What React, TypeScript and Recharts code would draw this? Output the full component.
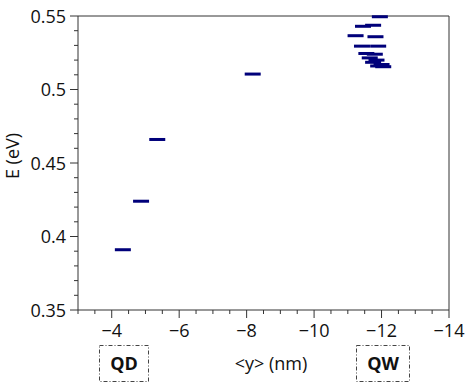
import React from 'react';
import { ScatterChart, Scatter, XAxis, YAxis } from 'recharts';

// energy levels: mean position <y> (nm) and energy E (eV)
const levelY: number[] = [
  -4.33, -4.87, -5.35, -8.18,
  -11.95, -11.45, -11.75, -11.23, -11.82, -11.42, -11.9,
  -11.55, -11.8, -11.65, -11.85, -11.75, -12.0, -11.9, -12.05,
];
const levelE: number[] = [
  0.391, 0.424, 0.466, 0.5105,
  0.5495, 0.543, 0.5437, 0.5366, 0.5359, 0.5295, 0.5295,
  0.5245, 0.524, 0.5215, 0.52, 0.5185, 0.517, 0.516, 0.5155,
];

// x ticks every 0.5, labels every 2
const xTicks: number[] = [
  -3, -3.5, -4, -4.5, -5, -5.5, -6, -6.5, -7, -7.5, -8, -8.5,
  -9, -9.5, -10, -10.5, -11, -11.5, -12, -12.5, -13, -13.5, -14,
];
const xLabels: number[] = [-4, -6, -8, -10, -12, -14];

// y ticks every 0.01, labels every 0.05
const yTicks: number[] = [
  0.35, 0.36, 0.37, 0.38, 0.39, 0.4, 0.41, 0.42, 0.43, 0.44, 0.45,
  0.46, 0.47, 0.48, 0.49, 0.5, 0.51, 0.52, 0.53, 0.54, 0.55,
];
const yLabels: number[] = [0.35, 0.4, 0.45, 0.5, 0.55];

const data = levelY.map((y, i) => ({ y, e: levelE[i] }));

const FONT = '"Open Sans", "Noto Sans", sans-serif';
const INK = '#111';
const NAVY = '#00007a';

const isXMajor = (v: number) => xLabels.some((t) => Math.abs(t - v) < 1e-6);
const isYMajor = (v: number) => yLabels.some((t) => Math.abs(t - v) < 1e-6);
const minus = (s: string) => s.replace('-', '\u2212');

const BottomTick = (props: any) => {
  const { x, y, payload } = props;
  const major = isXMajor(payload.value);
  return (
    <g>
      <line x1={x} x2={x} y1={y} y2={y + (major ? 8 : 4)} stroke="#333" />
      {major && (
        <text x={x} y={y + 27} textAnchor="middle" fontSize={18} fontFamily={FONT} fill={INK}>
          {minus(String(payload.value))}
        </text>
      )}
    </g>
  );
};

const TopTick = (props: any) => {
  const { x, y, payload } = props;
  const major = isXMajor(payload.value);
  return <line x1={x} x2={x} y1={y} y2={y - (major ? 8 : 4)} stroke="#333" />;
};

const LeftTick = (props: any) => {
  const { x, y, payload } = props;
  const major = isYMajor(payload.value);
  return (
    <g>
      <line x1={x} x2={x - (major ? 8 : 4)} y1={y} y2={y} stroke="#333" />
      {major && (
        <text x={x - 12} y={y + 6.5} textAnchor="end" fontSize={18} fontFamily={FONT} fill={INK}>
          {String(payload.value)}
        </text>
      )}
    </g>
  );
};

const RightTick = (props: any) => {
  const { x, y, payload } = props;
  const major = isYMajor(payload.value);
  return <line x1={x} x2={x + (major ? 8 : 4)} y1={y} y2={y} stroke="#333" />;
};

const Level = (props: any) => {
  const { cx, cy } = props;
  return <rect x={cx - 8} y={cy - 1.5} width={16} height={3} fill={NAVY} />;
};

const axisLine = { stroke: '#333', strokeWidth: 1 };

const App: React.FC = () => {
  return (
    <div style={{ position: 'absolute', left: 0, top: 0, width: 474, height: 384 }}>
      <ScatterChart width={474} height={384} margin={{ top: 0, right: 0, bottom: 0, left: 0 }}>
        <XAxis
          xAxisId="b"
          type="number"
          dataKey="y"
          domain={[-14, -3]}
          reversed
          ticks={xTicks}
          interval={0}
          height={74}
          tickSize={0}
          tickMargin={0}
          tickLine={false}
          axisLine={axisLine}
          tick={BottomTick}
        />
        <XAxis
          xAxisId="t"
          type="number"
          orientation="top"
          domain={[-14, -3]}
          reversed
          ticks={xTicks}
          interval={0}
          height={16}
          tickSize={0}
          tickMargin={0}
          tickLine={false}
          axisLine={axisLine}
          tick={TopTick}
        />
        <YAxis
          yAxisId="l"
          type="number"
          dataKey="e"
          domain={[0.35, 0.55]}
          ticks={yTicks}
          interval={0}
          width={78}
          tickSize={0}
          tickMargin={0}
          tickLine={false}
          axisLine={axisLine}
          tick={LeftTick}
        />
        <YAxis
          yAxisId="r"
          type="number"
          orientation="right"
          domain={[0.35, 0.55]}
          ticks={yTicks}
          interval={0}
          width={25}
          tickSize={0}
          tickMargin={0}
          tickLine={false}
          axisLine={axisLine}
          tick={RightTick}
        />
        <Scatter
          data={data}
          xAxisId="b"
          yAxisId="l"
          shape={Level}
          isAnimationActive={false}
        />
      </ScatterChart>
      <svg
        width={474}
        height={384}
        style={{ position: 'absolute', left: 0, top: 0, pointerEvents: 'none' }}
      >
        <text
          transform="translate(19, 156) rotate(-90)"
          textAnchor="middle"
          fontSize={18}
          fontFamily={FONT}
          fill={INK}
        >
          E (eV)
        </text>
        <text x={271} y={370} textAnchor="middle" fontSize={18} fontFamily={FONT} fill={INK}>
          {'<y> (nm)'}
        </text>
        <rect x={99.5} y={345.5} width={49} height={36} fill="none" stroke="#444" strokeDasharray="4 2 1 2" />
        <text x={124} y={370} textAnchor="middle" fontSize={18} fontWeight="bold" fontFamily={FONT} fill={INK}>
          QD
        </text>
        <rect x={356.5} y={345.5} width={53} height={36} fill="none" stroke="#444" strokeDasharray="4 2 1 2" />
        <text x={383} y={370} textAnchor="middle" fontSize={18} fontWeight="bold" fontFamily={FONT} fill={INK}>
          QW
        </text>
      </svg>
    </div>
  );
};

export default App;
